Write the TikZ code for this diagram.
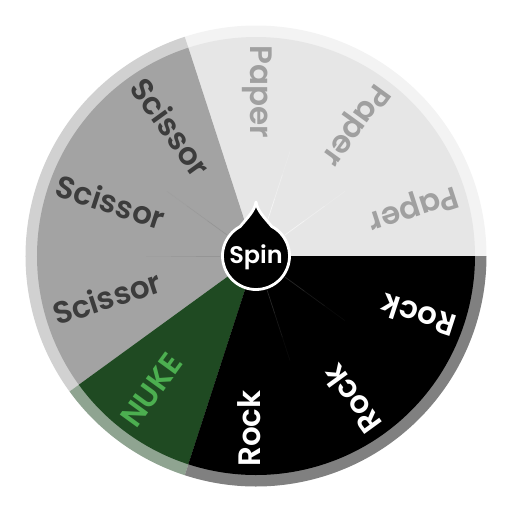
\documentclass[tikz,border=0pt]{standalone}
\usepackage{fontspec}
\setmainfont{Poppins}[BoldFont={Poppins SemiBold}]
\usetikzlibrary{calc}
\definecolor{paperc}{HTML}{E6E6E6}
\definecolor{papert}{HTML}{A0A0A0}
\definecolor{scisc}{HTML}{A3A3A3}
\definecolor{scist}{HTML}{3C3C3C}
\definecolor{nukec}{HTML}{1F4A22}
\definecolor{nuket}{HTML}{4CAF50}
\definecolor{rockc}{HTML}{000000}
\definecolor{rockt}{HTML}{FFFFFF}
\begin{document}
\begin{tikzpicture}[x=1pt,y=1pt,
  lbl/.style={font=\fontsize{31}{31}\selectfont\bfseries, inner sep=0pt, anchor=base west},
  seam/.style={line width=0.7pt}]
\useasboundingbox (-256,-256) rectangle (256,256);
% rims
\foreach \a/\b/\fc in {0/108/paperc,108/216/scisc,216/252/nukec,252/360/rockc}{
  \fill[\fc!50!white] (0,0) -- (\a:230.5) arc[start angle=\a, end angle=\b, radius=230.5] -- cycle;
}
% wedges
\foreach \a/\b/\fc in {0/108/paperc,108/216/scisc,216/252/nukec,252/360/rockc}{
  \fill[\fc] (0,0) -- (\a:219) arc[start angle=\a, end angle=\b, radius=219] -- cycle;
}
% faint seams
\foreach \a/\c in {36/white,72/white,144/black!45,180/black!45,288/black!75,324/black!75}{
  \draw[seam,\c,opacity=0.6] (\a:36) -- (\a:60);
  \draw[seam,\c,opacity=0.35] (\a:60) -- (\a:85);
  \draw[seam,\c,opacity=0.15] (\a:85) -- (\a:110);
}
\foreach \a/\tc/\t in {0/papert/Paper,36/papert/Paper,72/papert/Paper,
  108/scist/Scissor,144/scist/Scissor,180/scist/Scissor,
  216/nuket/NUKE,252/rockt/Rock,288/rockt/Rock,324/rockt/Rock}{
  \node[lbl, text=\tc, rotate=\a+198] (l\a) at ($(\a+18:211)+(\a+108:5)$) {\t};
}
% spin button with pointer
\filldraw[black, draw=white, line width=2.8pt, line join=round]
  (0,54) .. controls (1.5,45) and (8,39) .. (62:33.5)
  arc[start angle=62, end angle=-242, radius=33.5]
  .. controls (-8,39) and (-1.5,45) .. (0,54) -- cycle;
\node[font=\fontsize{24}{24}\selectfont\bfseries, text=white, inner sep=0pt, anchor=base] (spin) at (0,-7) {Spin};
\end{tikzpicture}
\end{document}
